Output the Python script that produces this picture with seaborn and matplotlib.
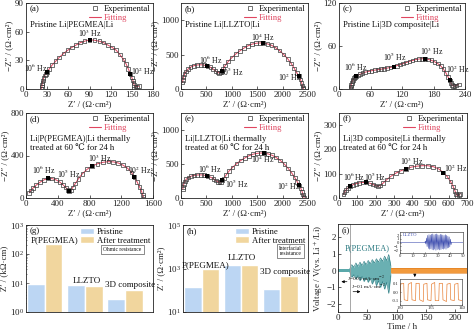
import matplotlib
matplotlib.use("Agg")
import matplotlib.pyplot as plt
from matplotlib.lines import Line2D
import numpy as np
import pandas as pd
import seaborn as sns

# ---------------- data ----------------
# (a) pristine Li|PEGMEA|Li
a_zr = [22, 22.3, 22.7, 23.2, 24, 25, 26.5, 28, 30, 33, 37, 42, 47, 53, 59, 65, 71, 77, 83, 90,
        97, 104, 110, 116, 122, 128, 133, 138, 142, 145, 148, 150, 151.5, 152.5, 153.5, 155, 157, 160]
a_zi = [0.5, 2, 4, 6.5, 9, 11.5, 14, 16, 18, 21, 25, 29, 33, 37, 40.5, 43.5, 46, 48.5, 50, 51.5,
        51, 50, 48.5, 46, 43.5, 40.5, 36, 31, 26, 21, 16, 12, 9, 6, 4, 2.5, 2.5, 3]
a_fzr = [30, 90, 148]
a_fzi = [18, 51.5, 16]
a_flab = [("10$^6$ Hz", 14, 21.7), ("10$^3$ Hz", 91, 58), ("10$^2$ Hz", 166, 19)]

# (b) pristine Li|LLZTO|Li
b_zr = [30, 38, 50, 70, 100, 140, 190, 250, 320, 390, 450, 520, 580, 630, 680, 720, 750, 780, 805, 830,
        870, 930, 1000, 1080, 1160, 1240, 1320, 1400, 1480, 1560, 1620, 1700, 1780, 1860, 1940, 2020,
        2100, 2170, 2230, 2280, 2320, 2350, 2375, 2390, 2400, 2410]
b_zi = [95, 135, 175, 215, 255, 290, 318, 338, 350, 352, 347, 335, 315, 290, 262, 242, 233, 240, 262, 290,
        340, 400, 455, 510, 555, 595, 628, 652, 665, 670, 668, 656, 636, 602, 558, 503,
        440, 370, 300, 235, 185, 140, 90, 50, 20, 5]
b_fzr = [520, 805, 1620, 2320]
b_fzi = [335, 262, 668, 185]
b_flab = [("10$^6$ Hz", 586, 421), ("10$^5$ Hz", 1000, 250), ("10$^4$ Hz", 1608, 755), ("10$^2$ Hz", 2148, 170)]

# (c) pristine Li|3D composite|Li
c_zr = [22, 22.5, 23.2, 24.2, 25.5, 27, 29, 31, 33, 36, 40, 45, 50, 56, 62, 68, 74, 80, 86, 92,
        98, 104, 110, 116, 122, 128, 134, 140, 146, 152, 158, 164, 170, 176, 182, 188, 194, 199,
        204, 208, 211, 213, 215, 217, 220, 224, 228]
c_zi = [1, 3.5, 6, 8.5, 11, 13, 15, 16.5, 17.5, 19, 20.5, 22, 23.5, 24.5, 25.5, 26.3, 27, 27.6, 28.3, 29.2,
        30.2, 31.2, 32.5, 34, 35.5, 37, 38.5, 39.8, 41, 41.8, 42.3, 42.2, 41.3, 40, 38, 35.5, 32, 27.5,
        22, 16.5, 12, 8.5, 6, 4.5, 4, 5, 6.5]
c_fzr = [33, 104, 164, 211]
c_fzi = [17.5, 31.2, 42.2, 12]
c_flab = [("10$^6$ Hz", 33, 31), ("10$^5$ Hz", 106, 45), ("10$^3$ Hz", 176, 53), ("10$^2$ Hz", 226, 27)]

# (d) Li|P(PEGMEA)|Li after 60 C / 24 h
d_zr = [40, 60, 90, 130, 180, 230, 283, 330, 380, 425, 465, 500, 525, 545, 565, 590, 620, 660, 710, 770,
        830, 900, 970, 1040, 1100, 1160, 1220, 1280, 1330, 1365, 1400, 1430, 1455, 1470, 1480]
d_zi = [48, 70, 95, 122, 150, 172, 185, 182, 170, 150, 125, 100, 78, 62, 72, 100, 135, 180, 228, 270,
        300, 322, 336, 342, 340, 330, 310, 280, 240, 195, 150, 105, 65, 30, 8]
d_fzr = [283, 545, 830, 1365]
d_fzi = [185, 62, 300, 195]
d_flab = [("10$^6$ Hz", 225, 262), ("10$^5$ Hz", 535, 226), ("10$^3$ Hz", 932, 372), ("10$^2$ Hz", 1440, 262)]

# (e) Li|LLZTO|Li after 60 C / 24 h
e_zr = [35, 42, 55, 75, 105, 145, 195, 255, 320, 390, 455, 520, 585, 640, 690, 730, 760, 790, 815, 845,
        885, 945, 1015, 1095, 1175, 1255, 1335, 1415, 1495, 1570, 1640, 1715, 1795, 1875, 1955, 2035,
        2110, 2180, 2240, 2290, 2330, 2360, 2385, 2400, 2412, 2425]
e_zi = [130, 165, 205, 245, 278, 302, 320, 333, 339, 340, 336, 325, 305, 282, 256, 236, 228, 236, 258, 288,
        335, 395, 450, 505, 550, 588, 620, 643, 657, 662, 660, 648, 628, 595, 552, 498,
        435, 368, 300, 235, 185, 140, 92, 52, 22, 5]
e_fzr = [520, 815, 1640, 2330]
e_fzi = [325, 258, 660, 185]
e_flab = [("10$^6$ Hz", 560, 425), ("10$^5$ Hz", 1110, 205), ("10$^4$ Hz", 1610, 570), ("10$^2$ Hz", 2130, 170)]

# (f) Li|3D composite|Li after 60 C / 24 h
f_zr = [25, 30, 38, 48, 60, 75, 92, 110, 130, 150, 168, 185, 200, 213, 226, 242, 262, 285, 310, 338,
        365, 395, 425, 455, 485, 515, 545, 570, 592, 610, 624, 634, 641, 647, 655, 663]
f_zi = [14, 24, 33, 41, 48, 54, 59, 62, 64, 64, 61, 56, 51, 48, 52, 62, 76, 90, 102, 112,
        120, 127, 131, 133, 133, 129, 120, 105, 88, 68, 48, 30, 16, 9, 12, 17]
f_fzr = [60, 150, 365, 570]
f_fzi = [48, 64, 120, 105]
f_flab = [("10$^6$Hz", 80, 86), ("10$^5$Hz", 195, 86), ("10$^3$ Hz", 400, 152), ("10$^2$ Hz", 640, 122)]

# (g), (h) resistances
materials = ["P(PEGMEA)", "LLZTO", "3D composite"]
states = ["Pristine", "After treatment"]
ohmic_pristine = [8.9, 8.5, 2.7]
ohmic_after = [215, 8.1, 5.8]
interfacial_pristine = [138, 1420, 112]
interfacial_after = [930, 1480, 447]

# (i) galvanostatic cycling envelopes
peg_rest_t = [0, 20]
peg_rest_hi = [0.07, 0.07]
peg_rest_lo = [-0.07, -0.07]
peg_t = [20, 23.5, 27, 30.5, 34, 37.5, 41, 44.5, 48, 51.5, 55, 58.5, 62, 65.5, 69, 72.5, 76, 79.5, 83, 86.5, 90]
peg_hi = [0.1, 0.35, 0.2, 0.45, 0.25, 0.5, 0.3, 0.55, 0.35, 0.6, 0.4, 0.65, 0.45, 0.7, 0.5, 0.75, 0.55, 0.85, 0.6, 0.95, 0.3]
peg_lo = [-0.1, -0.4, -0.25, -0.5, -0.3, -0.6, -0.35, -0.65, -0.4, -0.7, -0.45, -0.8, -0.5, -0.9, -0.6, -1.0,
          -0.65, -1.1, -0.7, -1.35, -0.3]
comp_t = [90, 220]
comp_hi = [0.14, 0.14]
comp_lo = [-0.14, -0.14]
llzto_t = [0, 19.8, 20.0, 20.5, 21.0, 21.5, 22.0, 22.5, 23.0, 23.5, 24.0, 24.5, 25.0, 25.5, 26.0, 26.5, 27.0,
           27.5, 28.0, 28.5, 29.0, 29.5, 30.0, 30.5, 31.0, 31.5, 32.0, 32.5, 33.0, 33.5, 34.0, 34.5, 35.0,
           35.5, 36.0, 36.5, 37.0, 37.5, 38.0, 38.5, 39.0, 39.5, 40.0, 40.5, 41.0, 41.3, 50]
llzto_v = [0, 0, 0.3, -0.4, 1.2, -1.1, 1.9, -1.6, 2.1, -1.8, 2.0, -1.7, 2.2, -1.9, 2.3, -2.0, 2.1,
           -1.8, 2.2, -2.1, 2.3, -1.9, 2.1, -1.8, 2.0, -2.0, 2.2, -1.9, 2.1, -1.7, 2.0, -1.8, 1.9,
           -1.6, 2.1, -1.8, 1.9, -1.5, 1.7, -1.4, 1.5, -1.2, 0.9, -0.6, 0.1, 0, 0]
zoom_t = [130.00, 130.08, 130.60, 130.68, 131.25, 131.33, 131.85, 131.93, 132.50, 132.58, 133.10, 133.18,
          133.75, 133.83, 134.35, 134.43, 135.00, 135.08, 135.60, 135.68, 136.25, 136.33, 136.85, 136.93,
          137.50, 137.58, 138.10, 138.18, 138.75, 138.83, 139.35, 139.43, 140.00]
zoom_v = [-0.10, 0.09, 0.10, -0.09, -0.10, 0.09, 0.11, -0.09, -0.10, 0.10, 0.10, -0.09,
          -0.11, 0.09, 0.10, -0.09, -0.10, 0.09, 0.11, -0.10, -0.10, 0.10, 0.10, -0.09,
          -0.11, 0.09, 0.10, -0.09, -0.10, 0.09, 0.10, -0.09, -0.10]

# ---------------- style ----------------
sns.set_theme(style="ticks")
plt.rcParams.update({
    "font.family": ["Liberation Serif", "DejaVu Serif", "DejaVu Sans"],
    "mathtext.fontset": "stix",
    "font.size": 6.5,
    "axes.linewidth": 0.6,
    "axes.edgecolor": "#222222",
    "axes.labelsize": 6.5,
    "axes.labelpad": 1.0,
    "xtick.direction": "in",
    "ytick.direction": "in",
    "xtick.major.size": 2,
    "ytick.major.size": 2,
    "xtick.minor.size": 1,
    "ytick.minor.size": 1,
    "xtick.major.width": 0.5,
    "ytick.major.width": 0.5,
    "xtick.minor.width": 0.4,
    "ytick.minor.width": 0.4,
    "xtick.labelsize": 6.5,
    "ytick.labelsize": 6.5,
    "xtick.major.pad": 1.5,
    "ytick.major.pad": 1.5,
    "xtick.color": "#222222",
    "ytick.color": "#222222",
    "text.color": "#111111",
})

FIT_RED = "#e0455f"
MARK = "#3a3a3a"
BLUE = "#bcd6f3"
TAN = "#f1d69e"
TEAL = "#5aa8aa"
TEAL_D = "#2d7b82"
ORANGE = "#f29a3c"
ORANGE_D = "#e07a1a"
NAVY = "#4150b0"

W, H = 474, 330
fig = plt.figure(figsize=(W / 100, H / 100), dpi=100)


def rect(l, r, t, b):
    return [l / W, 1 - b / H, (r - l) / W, (b - t) / H]


YLAB = "−Z″ / (Ω·cm²)"
XLAB = "Z′ / (Ω·cm²)"


def eis_panel(box, zr, zi, fzr, fzi, flab, xlim, xt, ylim, yt, letter, title, title_y):
    ax = fig.add_axes(box)
    sns.lineplot(x=zr, y=zi, sort=False, estimator=None, color=FIT_RED, lw=0.7, ax=ax)
    sns.scatterplot(x=zr, y=zi, marker="s", s=7, facecolor="none", edgecolor=MARK,
                    linewidth=0.5, ax=ax, zorder=3)
    sns.scatterplot(x=fzr, y=fzi, marker="s", s=8, color="black", linewidth=0, ax=ax, zorder=4)
    for txt, x, y in flab:
        ax.text(x, y, txt, ha="center", va="center", fontsize=5.6)
    ax.set_xlim(*xlim)
    ax.set_ylim(*ylim)
    ax.set_xticks(xt)
    ax.set_yticks(yt)
    ax.set_xlabel(XLAB, labelpad=0.5)
    ax.set_ylabel(YLAB, labelpad=1)
    ax.text(0.03, 0.93, letter, transform=ax.transAxes, ha="left", va="center", fontsize=6.5)
    ax.text(0.03, title_y, title, transform=ax.transAxes, ha="left", va="center",
            fontsize=6.2, linespacing=1.15)
    handles = [Line2D([], [], marker="s", ls="none", mfc="none", mec=MARK, ms=3, mew=0.5),
               Line2D([], [], color=FIT_RED, lw=0.8)]
    leg = ax.legend(handles, ["Experimental", "Fitting"], loc="upper right", frameon=False,
                    fontsize=6.2, handlelength=1.3, handletextpad=0.4, labelspacing=0.1,
                    borderaxespad=0.15, borderpad=0.1)
    leg.get_texts()[1].set_color(FIT_RED)
    return ax


eis_panel(rect(26, 153, 3, 89), a_zr, a_zi, a_fzr, a_fzi, a_flab, (0, 180), [0, 30, 60, 90, 120, 150, 180],
          (0, 90), [0, 30, 60, 90], "(a)", "Pristine Li|PEGMEA|Li", 0.74)
eis_panel(rect(181, 308, 3, 89), b_zr, b_zi, b_fzr, b_fzi, b_flab, (0, 2500), [0, 500, 1000, 1500, 2000, 2500],
          (0, 1250), [0, 500, 1000], "(b)", "Pristine Li|LLZTO|Li", 0.74)
eis_panel(rect(339, 465, 3, 89), c_zr, c_zi, c_fzr, c_fzi, c_flab, (0, 240), [0, 60, 120, 180, 240],
          (0, 120), [0, 60, 120], "(c)", "Pristine Li|3D composite|Li", 0.74)
eis_panel(rect(26, 153, 113, 198), d_zr, d_zi, d_fzr, d_fzi, d_flab, (0, 1600), [0, 400, 800, 1200, 1600],
          (0, 800), [0, 400, 800], "(d)", "Li|P(PEGMEA)|Li thermally\ntreated at 60 ℃ for 24 h", 0.645)
eis_panel(rect(181, 308, 113, 198), e_zr, e_zi, e_fzr, e_fzi, e_flab, (0, 2500), [0, 500, 1000, 1500, 2000, 2500],
          (0, 1250), [0, 500, 1000], "(e)", "Li|LLZTO|Li thermally\ntreated at 60 ℃ for 24 h", 0.645)
eis_panel(rect(339, 467, 113, 198), f_zr, f_zi, f_fzr, f_fzi, f_flab, (0, 700), [0, 100, 200, 300, 400, 500, 600, 700],
          (0, 350), [0, 100, 200, 300], "(f)", "Li|3D composite|Li thermally\ntreated at 60 ℃ for 24 h", 0.645)


def bar_panel(box, pristine, after, ylim, ylabel, letter, tags, note, note_xy):
    ax = fig.add_axes(box)
    df = pd.DataFrame({"Material": materials * 2,
                       "State": [states[0]] * 3 + [states[1]] * 3,
                       "Z": list(pristine) + list(after)})
    sns.barplot(data=df, x="Material", y="Z", hue="State", palette=[BLUE, TAN], saturation=1,
                width=0.88, errorbar=None, ax=ax)
    ax.set_yscale("log")
    ax.set_ylim(*ylim)
    ax.set_xlim(-0.47, 2.7)
    ax.set_xticks([])
    ax.set_xlabel("")
    ax.set_ylabel(ylabel, labelpad=1)
    ax.tick_params(axis="y", which="both", direction="in")
    h, l = ax.get_legend_handles_labels()
    ax.legend(h, l, loc="upper right", frameon=False, fontsize=6.2, handlelength=1.6,
              handleheight=0.8, handletextpad=0.4, labelspacing=0.05, borderaxespad=0.2, borderpad=0.1)
    ax.text(0.03, 0.93, letter, transform=ax.transAxes, ha="left", va="center", fontsize=6.5)
    for txt, x, y in tags:
        ax.text(x, y, txt, ha="center", va="center", fontsize=6.5)
    ax.text(note_xy[0], note_xy[1], note, transform=ax.transAxes, ha="center", va="center",
            fontsize=4, linespacing=1.0,
            bbox=dict(boxstyle="square,pad=0.35", fc="white", ec="#333333", lw=0.4))
    return ax


bar_panel(rect(26, 153, 225, 312), ohmic_pristine, ohmic_after, (1, 1000), "Z′ / (kΩ·cm)", "(g)",
          [("P(PEGMEA)", 0.25, 300), ("LLZTO", 1.05, 11.5), ("3D composite", 2.13, 8.2)],
          "Ohmic resistance", (0.76, 0.72))
bar_panel(rect(183, 308, 225, 312), interfacial_pristine, interfacial_after, (10, 1e5), "Z′ / (Ω·cm²)", "(h)",
          [("P(PEGMEA)", 0.1, 1450), ("LLZTO", 1.03, 2900), ("3D composite", 2.13, 720)],
          "Interfacial\nresistance", (0.86, 0.70))

# (i) voltage profiles
ax = fig.add_axes(rect(338, 467, 224, 312))
ax.fill_between(peg_rest_t, peg_rest_lo, peg_rest_hi, color=TEAL, lw=0)
ax.fill_between(peg_t, peg_lo, peg_hi, color=TEAL, lw=0, alpha=0.9)
sns.lineplot(x=peg_t, y=peg_hi, sort=False, estimator=None, color=TEAL_D, lw=0.4, ax=ax)
sns.lineplot(x=peg_t, y=peg_lo, sort=False, estimator=None, color=TEAL_D, lw=0.4, ax=ax)
ax.fill_between(comp_t, comp_lo, comp_hi, color=ORANGE, lw=0)
sns.lineplot(x=comp_t, y=comp_hi, color=ORANGE_D, lw=0.4, ax=ax)
sns.lineplot(x=comp_t, y=comp_lo, color=ORANGE_D, lw=0.4, ax=ax)
ax.axvline(20, color="#999999", lw=0.6)
ax.set_xlim(0, 220)
ax.set_ylim(-2.45, 2.75)
ax.set_xticks([0, 50, 100, 150, 200])
ax.set_yticks([-2, -1, 0, 1, 2])
ax.set_xlabel("Time / h", labelpad=0.5)
ax.set_ylabel("Voltage / V(vs. Li$^+$/Li)", labelpad=1)
ax.text(0.03, 0.93, "(i)", transform=ax.transAxes, ha="left", va="center", fontsize=6.5)
ax.text(50, 1.33, "P(PEGMEA)", color=TEAL_D, ha="center", va="center", fontsize=6)
ax.annotate("", xy=(1, -0.66), xytext=(20, -0.66),
            arrowprops=dict(arrowstyle="-|>", lw=0.5, color="black", mutation_scale=4))
ax.text(48, -0.5, "J=0.05 mA·cm$^{-2}$", ha="center", va="center", fontsize=3.8)
ax.text(52, -0.98, "J=0.1 mA·cm$^{-2}$", ha="center", va="center", fontsize=3.8)
ax.annotate("", xy=(43, -1.25), xytext=(21, -1.25),
            arrowprops=dict(arrowstyle="-|>", lw=0.5, color="black", mutation_scale=4))
ax.annotate("", xy=(131, -0.55), xytext=(131, -0.05),
            arrowprops=dict(arrowstyle="-|>", lw=0.5, color="black", mutation_scale=4))

ins1 = fig.add_axes(rect(400, 463, 232, 253))
sns.lineplot(x=llzto_t, y=llzto_v, sort=False, estimator=None, color=NAVY, lw=0.4, ax=ins1)
ins1.set_xlim(0, 50)
ins1.set_ylim(-2.8, 2.8)
ins1.set_xticks([0, 10, 20, 30, 40, 50])
ins1.set_yticks([-2, -1, 0, 1, 2])
ins1.tick_params(labelsize=3.3, length=1, pad=0.8, width=0.4)
ins1.text(0.05, 0.85, "LLZTO", transform=ins1.transAxes, color=NAVY, fontsize=3.3, va="center")
for s in ins1.spines.values():
    s.set_linewidth(0.4)

ins2 = fig.add_axes(rect(400, 462, 279, 305))
sns.lineplot(x=zoom_t, y=zoom_v, sort=False, estimator=None, color="#e8833a", lw=0.5, ax=ins2)
ins2.set_xlim(130, 140)
ins2.set_ylim(-0.15, 0.15)
ins2.set_xticks([130, 135, 140])
ins2.set_yticks([-0.1, 0.0, 0.1])
ins2.set_yticklabels(["-0.1", "0.0", "0.1"])
ins2.tick_params(labelsize=3.3, length=1, pad=0.8, width=0.4)
for s in ins2.spines.values():
    s.set_linewidth(0.4)

fig.savefig("out.png", dpi=100)
